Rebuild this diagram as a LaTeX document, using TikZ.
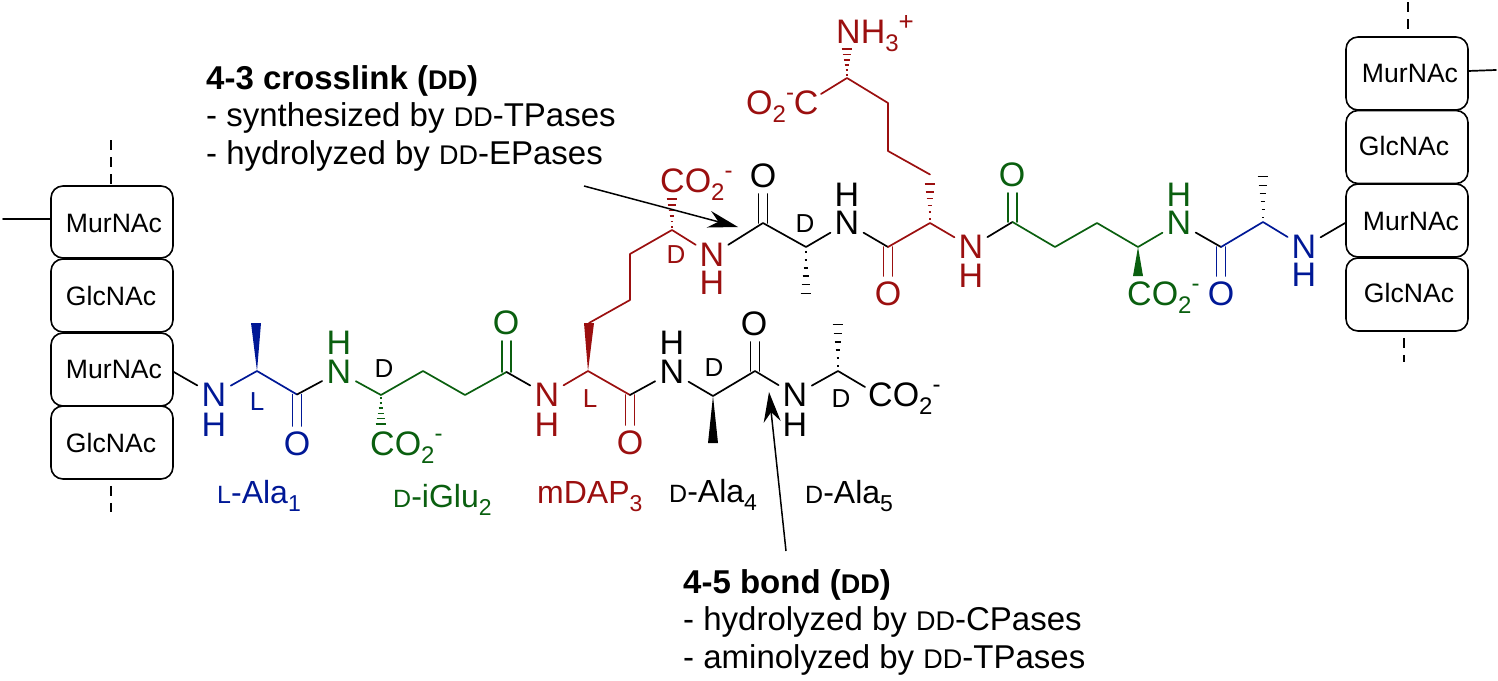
\documentclass[tikz,border=0pt]{standalone}
\usepackage{fontspec}
\setmainfont{Liberation Sans}
\usetikzlibrary{calc,arrows.meta}
\definecolor{cblue}{RGB}{0,24,150}
\definecolor{cgreen}{RGB}{10,95,15}
\definecolor{cred}{RGB}{155,15,15}
\newcommand\lowr[1]{\raisebox{-8pt}{\fontsize{24}{24}\selectfont #1}}
\newcommand\uppr[1]{\raisebox{14pt}{\fontsize{24}{24}\selectfont #1}}
\newcommand\lowl[1]{\raisebox{-8pt}{\fontsize{23}{23}\selectfont #1}}
\newcommand\scl[1]{{\fontsize{25}{25}\selectfont #1}}
\newcommand\sch[1]{{\fontsize{27}{27}\selectfont #1}}
\newcommand\carbox{CO\lowr{2}\uppr{-}}
% hashed bond from atom A to far end B
\newcommand\hashb[3][black]{%
  \foreach \t in {0.1,0.27,0.44,0.61,0.78,0.97}{%
    \draw[#1,line width=1.6pt] ($(#2)!\t!(#3)+(-5.5*\t,0)$) -- ($(#2)!\t!(#3)+(5.5*\t,0)$);}}
% solid wedge from atom A to far end B
\newcommand\wedgeb[3][black]{\fill[#1] (#2) -- ($(#3)+(-5,0)$) -- ($(#3)+(5,0)$) -- cycle;}
% double bond C=O, O straight above or below C
\newcommand\dblb[3][black]{%
  \draw[#1,bond,shorten >=18pt] ($(#2)+(-4.5,0)$) -- ($(#2 |- #3)+(-4.5,0)$);
  \draw[#1,bond,shorten >=18pt] ($(#2)+(4.5,0)$) -- ($(#2 |- #3)+(4.5,0)$);}
\tikzset{
  bond/.style={line width=1.7pt,line cap=round,line join=round},
  atom/.style={circle,inner sep=0pt,minimum size=38pt,font=\fontsize{34}{34}\selectfont},
  stereo/.style={inner sep=0pt,font=\fontsize{26}{26}\selectfont},
  chemtext/.style={anchor=base west,inner sep=0pt,font=\fontsize{34}{34}\selectfont},
  residue/.style={anchor=base west,inner sep=0pt,font=\fontsize{32}{32}\selectfont},
  sugarbox/.style={draw=black,line width=1.6pt,rounded corners=12pt,minimum width=122pt,inner sep=0pt},
  sugartext/.style={anchor=base,inner sep=0pt,font=\fontsize{26.6}{26.6}\selectfont},
  note/.style={anchor=base west,inner sep=0pt,font=\fontsize{33}{33}\selectfont},
  notehead/.style={anchor=base west,inner sep=0pt,font=\fontsize{33}{33}\selectfont\bfseries},
  dashline/.style={line width=1.6pt,dash pattern=on 10pt off 7pt},
  pointer/.style={line width=1.5pt,-{Stealth[length=30pt,width=17pt]}}
}
\begin{document}
\begin{tikzpicture}[x=1pt,y=-1pt]
\useasboundingbox (0,0) rectangle (1498,680);
% ---- left sugar stack
\node[sugarbox,minimum height=72pt] (L1) at (112,222) {};
\node[sugarbox,minimum height=73pt] (L2) at (112,295.5) {};
\node[sugarbox,minimum height=73pt] (L3) at (112,369.5) {};
\node[sugarbox,minimum height=73pt] (L4) at (112,442.5) {};
\node[sugartext] (L1t) at (114,232) {MurNAc};
\node[sugartext] (L2t) at (111,305) {GlcNAc};
\node[sugartext] (L3t) at (114,378) {MurNAc};
\node[sugartext] (L4t) at (111,452) {GlcNAc};
\coordinate (Ltop) at (111,140);
\coordinate (Lbot) at (111,512);
\coordinate (Lfree) at (3,219);
\coordinate (L1w) at (51,219);
\coordinate (L3e) at (173,371.5);
\draw[dashline] (Ltop) -- (L1.north -| Ltop);
\draw[dashline] (L4.south -| Lbot) ++(0,6) -- (Lbot);
\draw[bond] (Lfree) -- (L1w);
% ---- right sugar stack
\node[sugarbox,minimum height=73pt] (R1) at (1407,73.5) {};
\node[sugarbox,minimum height=73pt] (R2) at (1407,147) {};
\node[sugarbox,minimum height=73pt] (R3) at (1407,220.5) {};
\node[sugarbox,minimum height=73pt] (R4) at (1407,294.5) {};
\node[sugartext] (R1t) at (1410,82) {MurNAc};
\node[sugartext] (R2t) at (1404,155) {GlcNAc};
\node[sugartext] (R3t) at (1411,230) {MurNAc};
\node[sugartext] (R4t) at (1409,302) {GlcNAc};
\coordinate (Rtop) at (1408,2);
\coordinate (Rbot) at (1404,362);
\coordinate (Rfree) at (1496,70);
\coordinate (R1e) at (1468,71);
\coordinate (R3w) at (1346,222.5);
\draw[dashline] (Rtop) -- (R1.north -| Rtop);
\draw[dashline] (R4.south -| Rbot) ++(0,6) -- (Rbot);
\draw[bond] (R1e) -- (Rfree);
% ---- lower chain atoms
\node[atom,cblue] (N1) at (214,395) {N};
\node[atom,cblue] (H1) at (214,425) {H};
\node[atom,cblue] (O1) at (297,444) {O};
\node[atom,cgreen] (N2) at (339,372) {N};
\node[atom,cgreen] (H2) at (339,343) {H};
\node[atom,cgreen] (O2) at (506,323) {O};
\node[atom,cred] (N3) at (547,395) {N};
\node[atom,cred] (H3) at (547,425) {H};
\node[atom,cred] (O3) at (630,443) {O};
\node[atom] (N4) at (672,372) {N};
\node[atom] (H4) at (672,343) {H};
\node[atom] (O4) at (754,324) {O};
\node[atom] (N5) at (795,395) {N};
\node[atom] (H5) at (795,425) {H};
\coordinate (A1) at (257,371);
\coordinate (A1m) at (256,323);
\coordinate (C1) at (297,394.5);
\coordinate (G1) at (381,395);
\coordinate (G1s) at (381,425);
\coordinate (G2) at (423,371);
\coordinate (G3) at (465,395);
\coordinate (C2) at (506.5,372);
\coordinate (D1) at (588,371);
\coordinate (D1s) at (589,323);
\coordinate (S1) at (630,300);
\coordinate (S2) at (630,254);
\coordinate (S3) at (672,230);
\coordinate (S3c) at (672,198);
\coordinate (C3) at (630,395);
\coordinate (A4) at (713,396);
\coordinate (A4m) at (713,443);
\coordinate (C4) at (755,371);
\coordinate (A5) at (838,371);
\coordinate (A5m) at (838,323);
\coordinate (A5c) at (865,387);
% ---- upper chain atoms
\node[atom,cred] (N6) at (712,255) {N};
\node[atom,cred] (H6) at (712,283) {H};
\node[atom] (O6) at (763,176) {O};
\node[atom] (N7) at (847,223) {N};
\node[atom] (H7) at (847,195) {H};
\node[atom,cred] (O7) at (888,294) {O};
\node[atom,cred] (N8) at (971,247) {N};
\node[atom,cred] (H8) at (971,276) {H};
\node[atom,cgreen] (O8) at (1012,175) {O};
\node[atom,cgreen] (N9) at (1179,223) {N};
\node[atom,cgreen] (H9) at (1179,195) {H};
\node[atom,cblue] (O9) at (1221,294) {O};
\node[atom,cblue] (N10) at (1304,247) {N};
\node[atom,cblue] (H10) at (1304,275) {H};
\coordinate (C6) at (763,223);
\coordinate (A6) at (806,247);
\coordinate (A6m) at (806,295);
\coordinate (C7) at (888,247);
\coordinate (D2) at (930,223);
\coordinate (D2s) at (930,183);
\coordinate (T3) at (930,174.5);
\coordinate (T2) at (888,151);
\coordinate (T1) at (888,103);
\coordinate (T0) at (847,78);
\coordinate (T0n) at (847,48);
\coordinate (T0c) at (821,94);
\coordinate (C8) at (1012.5,222);
\coordinate (G4) at (1055,247);
\coordinate (G5) at (1097,223);
\coordinate (G6) at (1138,247);
\coordinate (G6m) at (1138,276);
\coordinate (C9) at (1221,247);
\coordinate (A9) at (1263,222);
\coordinate (A9m) at (1263,175);
% ---- carboxylate and ammonium texts
\node[chemtext,cgreen] (Ca) at (370,455) {\carbox};
\node[chemtext,cred] (Cb) at (660,192) {\carbox};
\node[chemtext] (Cc) at (868,406) {\carbox};
\node[chemtext,cgreen] (Cd) at (1127,305) {\carbox};
\node[chemtext,cred] (Am) at (836,43) {NH\lowr{3}\raisebox{13pt}{\fontsize{26}{26}\selectfont +}};
\node[chemtext,cred] (Ce) at (746,114) {O\lowr{2}\uppr{-}C};
% ---- stereo letters
\node[stereo,cblue] (s1) at (257,402) {L};
\node[stereo] (s2) at (384,369) {D};
\node[stereo,cred] (s3) at (590,399) {L};
\node[stereo] (s4) at (714,368) {D};
\node[stereo] (s5) at (841,399) {D};
\node[stereo,cred] (s6) at (676,255) {D};
\node[stereo] (s7) at (805,224) {D};
% ---- bonds, lower chain
\draw[bond] (L3e) -- (N1);
\draw[bond,cblue] (N1) -- (A1) -- (C1);
\wedgeb[cblue]{A1}{A1m}
\dblb[cblue]{C1}{O1}
\draw[bond] (C1) -- (N2);
\draw[bond,cgreen] (N2) -- (G1) -- (G2) -- (G3) -- (C2);
\hashb[cgreen]{G1}{G1s}
\dblb[cgreen]{C2}{O2}
\draw[bond] (C2) -- (N3);
\draw[bond,cred] (N3) -- (D1) -- (C3);
\wedgeb[cred]{D1}{D1s}
\draw[bond,cred] (D1s) -- (S1) -- (S2) -- (S3) -- (N6);
\hashb[cred]{S3}{S3c}
\dblb[cred]{C3}{O3}
\draw[bond] (C3) -- (N4);
\draw[bond] (N4) -- (A4) -- (C4) -- (N5);
\wedgeb{A4}{A4m}
\dblb{C4}{O4}
\draw[bond] (N5) -- (A5) -- (A5c);
\hashb{A5}{A5m}
% ---- bonds, upper chain
\draw[bond] (N6) -- (C6) -- (A6) -- (N7);
\dblb{C6}{O6}
\hashb{A6}{A6m}
\draw[bond] (N7) -- (C7);
\draw[bond,cred] (C7) -- (D2) -- (N8);
\dblb[cred]{C7}{O7}
\hashb[cred]{D2}{D2s}
\draw[bond,cred] (T3) -- (T2) -- (T1) -- (T0) -- (T0c);
\hashb[cred]{T0}{T0n}
\draw[bond] (N8) -- (C8);
\draw[bond,cgreen] (C8) -- (G4) -- (G5) -- (G6) -- (N9);
\dblb[cgreen]{C8}{O8}
\wedgeb[cgreen]{G6}{G6m}
\draw[bond] (N9) -- (C9);
\draw[bond,cblue] (C9) -- (A9) -- (N10);
\dblb[cblue]{C9}{O9}
\hashb{A9}{A9m}
\draw[bond] (N10) -- (R3w);
% ---- residue names
\node[residue,cblue] (r1) at (217,503) {\scl{L}-Ala\lowl{1}};
\node[residue,cgreen] (r2) at (393,507) {\scl{D}-iGlu\lowl{2}};
\node[residue,cred] (r3) at (537,503) {mDAP\lowl{3}};
\node[residue] (r4) at (669,502) {\scl{D}-Ala\lowl{4}};
\node[residue] (r5) at (805,503) {\scl{D}-Ala\lowl{5}};
% ---- notes
\node[notehead] (n1) at (206,89) {4-3 crosslink (\sch{DD})};
\node[note] (n2) at (206,126) {- synthesized by \sch{DD}-TPases};
\node[note] (n3) at (206,164) {- hydrolyzed by \sch{DD}-EPases};
\node[notehead] (n4) at (683,593) {4-5 bond (\sch{DD})};
\node[note] (n5) at (683,630) {- hydrolyzed by \sch{DD}-CPases};
\node[note] (n6) at (683,668) {- aminolyzed by \sch{DD}-TPases};
% ---- pointers
\coordinate (p1s) at (584,186);
\coordinate (p1e) at (738,227);
\coordinate (p2s) at (786,551);
\coordinate (p2e) at (769,392);
\draw[pointer] (p1s) -- (p1e);
\draw[pointer] (p2s) -- (p2e);
\end{tikzpicture}
\end{document}
